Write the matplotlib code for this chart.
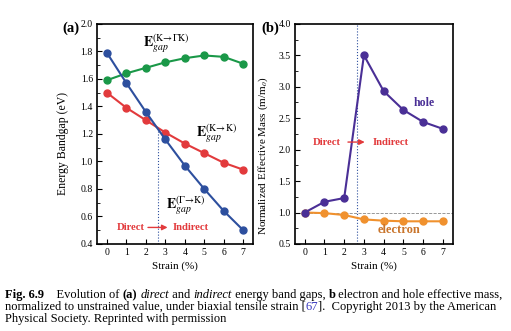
import matplotlib.pyplot as plt
from matplotlib.ticker import MultipleLocator

plt.rcParams['font.family'] = ['Liberation Serif', 'DejaVu Serif']
plt.rcParams['mathtext.fontset'] = 'stix'

# strain values (%)
strain = [0, 1, 2, 3, 4, 5, 6, 7]

# (a) band gaps in eV
gap_gamma_k = [1.79, 1.57, 1.36, 1.16, 0.97, 0.80, 0.64, 0.50]
gap_k_k = [1.50, 1.39, 1.30, 1.21, 1.13, 1.06, 0.99, 0.94]
gap_k_gk = [1.59, 1.64, 1.68, 1.72, 1.75, 1.77, 1.76, 1.71]

# (b) normalized effective masses
hole = [1.00, 1.17, 1.23, 3.50, 2.93, 2.63, 2.44, 2.33]
electron = [1.00, 0.99, 0.96, 0.89, 0.87, 0.86, 0.86, 0.86]

crossover = 2.63

blue = '#2d4f9e'
red = '#e23a3c'
green = '#1a9848'
purple = '#4a2f96'
orange = '#f0912e'

fig = plt.figure(figsize=(5.11, 3.31), dpi=100)
ax1 = fig.add_axes([0.190, 0.263, 0.305, 0.665])
ax2 = fig.add_axes([0.577, 0.263, 0.309, 0.665])

for ax in (ax1, ax2):
    ax.set_xlim(-0.5, 7.5)
    ax.set_xticks(strain)
    ax.tick_params(direction='in', labelsize=7, length=3.5, width=0.8, pad=3)
    ax.tick_params(which='minor', direction='in', length=2, width=0.6)
    for s in ax.spines.values():
        s.set_linewidth(1.2)
    ax.set_xlabel('Strain (%)', fontsize=8, labelpad=3)

# (a)
ax1.plot(strain, gap_k_gk, '-o', color=green, lw=1.5, ms=5)
ax1.plot(strain, gap_k_k, '-o', color=red, lw=1.5, ms=5)
ax1.plot(strain, gap_gamma_k, '-o', color=blue, lw=1.5, ms=5)
ax1.plot([crossover, crossover], [0.4, 1.23], ls=':', color=blue, lw=0.8)
ax1.set_ylim(0.4, 2.0)
ax1.yaxis.set_major_locator(MultipleLocator(0.2))
ax1.yaxis.set_minor_locator(MultipleLocator(0.1))
ax1.set_yticklabels([f'{v:.1f}' for v in ax1.get_yticks()])
ax1.set_ylabel('Energy Bandgap (eV)', fontsize=8.5)
ax1.yaxis.set_label_coords(-0.18, 0.455)

ax1.text(1.85, 1.86, r'$\mathbf{E}_{\mathit{gap}}^{(\mathrm{K\!\rightarrow\!\Gamma K})}$',
         fontsize=10, va='center')
ax1.text(4.6, 1.21, r'$\mathbf{E}_{\mathit{gap}}^{(\mathrm{K\!\rightarrow\!K})}$',
         fontsize=10, va='center')
ax1.text(3.05, 0.68, r'$\mathbf{E}_{\mathit{gap}}^{(\Gamma\!\rightarrow\!\mathrm{K})}$',
         fontsize=10, va='center')
ax1.text(0.53, 0.52, 'Direct', color=red, fontsize=7.7, fontweight='bold', va='center')
ax1.annotate('', xy=(3.26, 0.52), xytext=(1.97, 0.52),
             arrowprops=dict(arrowstyle='-|>', color=red, lw=1, mutation_scale=8))
ax1.text(3.36, 0.52, 'Indirect', color=red, fontsize=7.7, fontweight='bold', va='center')
fig.text(0.122, 0.905, '(a)', fontsize=10.5, fontweight='bold')

# (b)
ax2.plot([0, 7.5], [1.0, 1.0], ls='--', color='#888888', lw=0.6)
ax2.axvline(crossover, ls=':', color=blue, lw=0.8)
ax2.plot(strain, electron, '-o', color=orange, lw=1.5, ms=5)
ax2.plot(strain, hole, '-o', color=purple, lw=1.5, ms=5)
ax2.set_ylim(0.5, 4.0)
ax2.yaxis.set_major_locator(MultipleLocator(0.5))
ax2.yaxis.set_minor_locator(MultipleLocator(0.25))
ax2.set_yticklabels([f'{v:.1f}' for v in ax2.get_yticks()])
ax2.set_ylabel('Normalized Effective Mass (m/m$_o$)', fontsize=8)
ax2.yaxis.set_label_coords(-0.155, 0.40)

ax2.text(5.5, 2.74, 'hole', color=purple, fontsize=8.5, fontweight='bold', va='center')
ax2.text(4.77, 0.72, 'electron', color='#c9752c', fontsize=9, fontweight='bold',
         va='center', ha='center')
ax2.text(0.41, 2.12, 'Direct', color=red, fontsize=7.7, fontweight='bold', va='center')
ax2.annotate('', xy=(3.18, 2.12), xytext=(2.05, 2.12),
             arrowprops=dict(arrowstyle='-|>', color=red, lw=1, mutation_scale=8))
ax2.text(3.44, 2.12, 'Indirect', color=red, fontsize=7.7, fontweight='bold', va='center')
fig.text(0.511, 0.905, '(b)', fontsize=10.5, fontweight='bold')

# caption, built piece by piece so bold/italic/colour can change mid-line
line_y = [0.0997, 0.0634, 0.0287]
parts1 = [('Fig. 6.9', 'bold', 'normal', 'black'),
          ('    Evolution of ', 'normal', 'normal', 'black'),
          ('(a)', 'bold', 'normal', 'black'), (' ', 'normal', 'normal', 'black'),
          ('direct', 'normal', 'italic', 'black'), (' and ', 'normal', 'normal', 'black'),
          ('indirect', 'normal', 'italic', 'black'),
          (' energy band gaps, ', 'normal', 'normal', 'black'),
          ('b', 'bold', 'normal', 'black'),
          (' electron and hole effective mass,', 'normal', 'normal', 'black')]
parts2 = [('normalized to unstrained value, under biaxial tensile strain [',
           'normal', 'normal', 'black'),
          ('67', 'normal', 'normal', '#3b3bc0'),
          ('].  Copyright 2013 by the American', 'normal', 'normal', 'black')]
parts3 = [('Physical Society. Reprinted with permission', 'normal', 'normal', 'black')]

fig.canvas.draw()
renderer = fig.canvas.get_renderer()
for parts, y in zip([parts1, parts2, parts3], line_y):
    x = 0.01
    for s, w, st, c in parts:
        tx = fig.text(x, y, s, fontsize=9, fontweight=w, fontstyle=st, color=c,
                      va='baseline')
        bb = tx.get_window_extent(renderer)
        x += bb.width / fig.bbox.width

fig.savefig('out.png', dpi=100)
